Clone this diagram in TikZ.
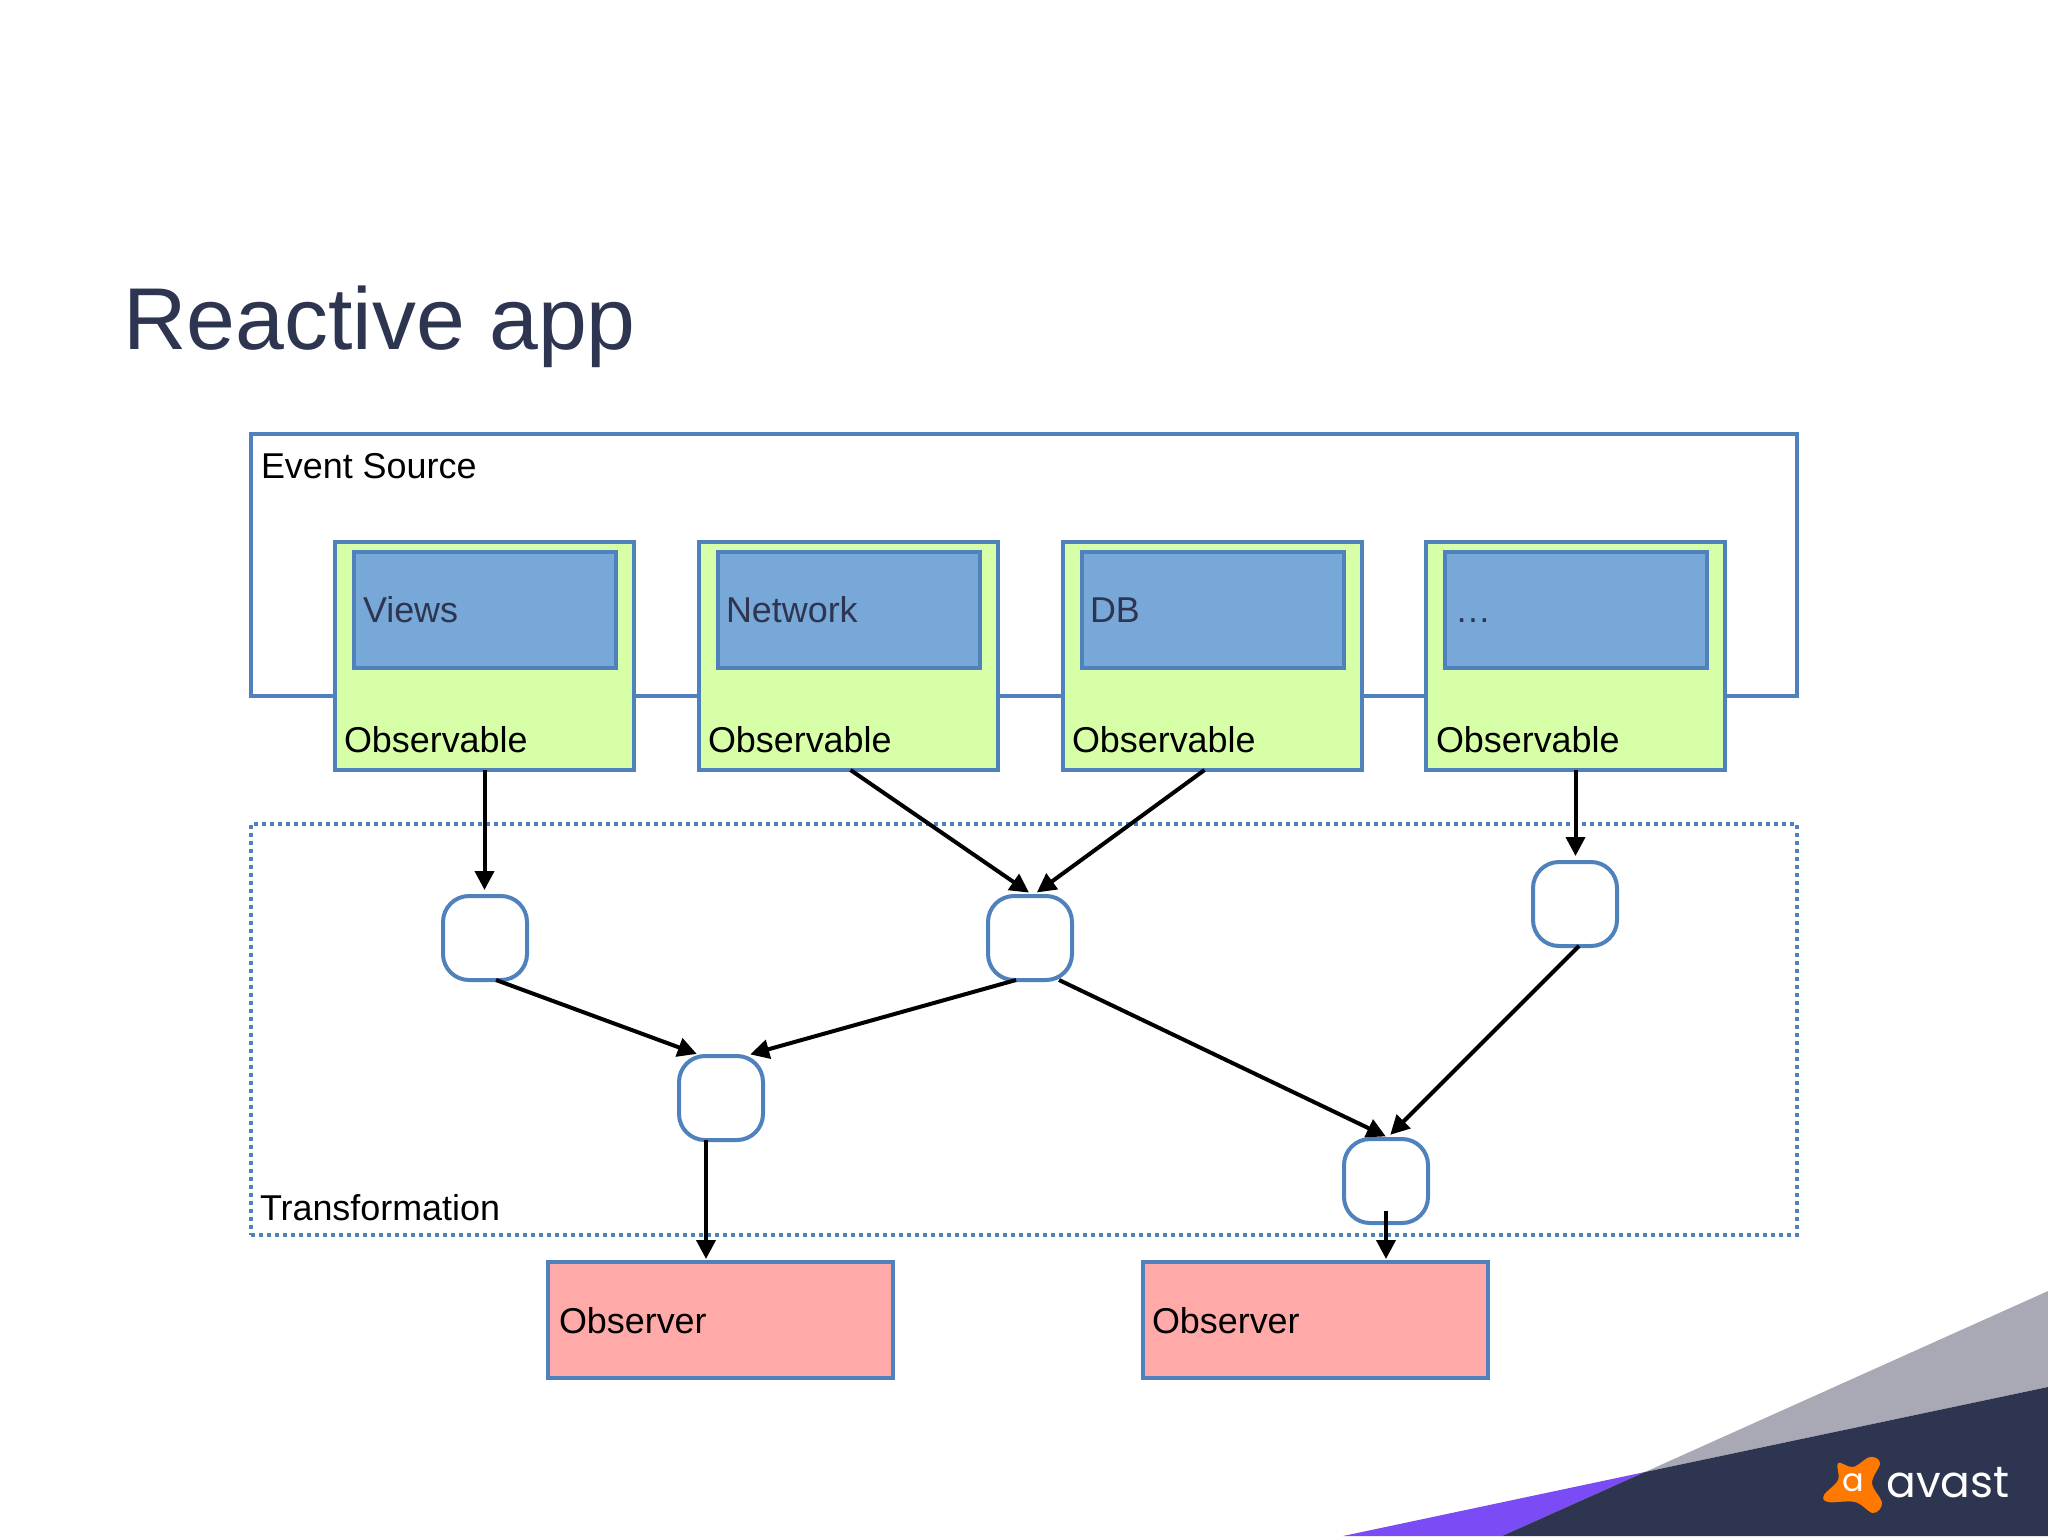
\documentclass[tikz,border=0pt]{standalone}
\usepackage{fontspec}
\setmainfont{Liberation Sans}
\newfontfamily\logofont{Poppins}
\usetikzlibrary{arrows.meta}
\definecolor{edgeblue}{HTML}{4F81BD}
\definecolor{obsgreen}{HTML}{D6FFA8}
\definecolor{srcblue}{HTML}{78A8D8}
\definecolor{obspink}{HTML}{FFA9A9}
\definecolor{slate}{HTML}{2E3550}
\definecolor{wedgegray}{HTML}{A9A9B5}
\definecolor{wedgepurple}{HTML}{7B4CF5}
\definecolor{logoorange}{HTML}{FF7800}
\tikzset{
    framebox/.style={draw=edgeblue, line width=2pt, anchor=north west, inner sep=0, outer sep=0},
    eventbox/.style={framebox, minimum width=773pt, minimum height=131pt},
    transbox/.style={framebox, line width=1.8pt, dash pattern=on 2pt off 2pt, minimum width=773pt, minimum height=205.5pt},
    obsbox/.style={framebox, fill=obsgreen, minimum width=149.5pt, minimum height=114pt},
    srcbox/.style={framebox, fill=srcblue, minimum width=131pt, minimum height=58pt},
    opbox/.style={draw=edgeblue, line width=2pt, fill=white, anchor=center, rounded corners=13pt, inner sep=0, outer sep=0, minimum size=42pt},
    sinkbox/.style={framebox, fill=obspink, minimum width=172.5pt, minimum height=58pt},
    lbl/.style={anchor=base west, inner sep=0, outer sep=0, font=\fontsize{17.95}{20}\selectfont},
    srclbl/.style={lbl, text=slate},
    flow/.style={draw=black, line width=2pt, -{Stealth[inset=0pt, length=9.5pt, width=9.5pt]}, shorten >=3pt}
}
\begin{document}
\begin{tikzpicture}[x=0.5pt, y=-0.5pt]
    \useasboundingbox (0, 0) rectangle (2048, 1536);
    \fill[white] (0, 0) rectangle (2048, 1536);

    % corner of the slide
    \fill[wedgegray] (1645, 1472) -- (2048, 1291) -- (2048, 1387) -- cycle;
    \fill[wedgepurple] (1343, 1536) -- (1645, 1472) -- (1502, 1536) -- cycle;
    \fill[slate] (1502, 1536) -- (1645, 1472) -- (2048, 1387) -- (2048, 1536) -- cycle;
    \fill[logoorange] plot[smooth cycle, tension=0.6] coordinates {(1838, 1463) (1853, 1467) (1870, 1457) (1880, 1463) (1872, 1483) (1882, 1503) (1873, 1513) (1855, 1502) (1828, 1502) (1824, 1495) (1838, 1480)};
    \node[anchor=base, inner sep=0, text=white, font=\logofont\fontsize{16}{18}\selectfont] (logomark) at (1853, 1491) {a};
    \node[anchor=base west, inner sep=0, text=white, font=\logofont\fontsize{22}{26}\selectfont] (logoname) at (1886, 1497) {avast};

    \node[anchor=base west, inner sep=0, text=slate, font=\fontsize{43.9}{50}\selectfont] (title) at (123, 349) {Reactive app};

    \node[eventbox] (event) at (251, 434) {};
    \node[lbl] (eventlbl) at (261, 478) {Event Source};
    \node[transbox] (trans) at (251, 824) {};
    \node[lbl] (translbl) at (260, 1220) {Transformation};

    \node[obsbox] (obs1) at (335, 542) {};
    \node[obsbox] (obs2) at (699, 542) {};
    \node[obsbox] (obs3) at (1063, 542) {};
    \node[obsbox] (obs4) at (1426, 542) {};

    \node[srcbox] (src1) at (354, 552) {};
    \node[srcbox] (src2) at (718, 552) {};
    \node[srcbox] (src3) at (1082, 552) {};
    \node[srcbox] (src4) at (1445, 552) {};

    \node[srclbl] (views) at (363, 622) {Views};
    \node[srclbl] (network) at (726, 622) {Network};
    \node[srclbl] (db) at (1090, 622) {DB};
    \node[srclbl] (more) at (1455, 622) {…};

    \node[lbl] (obslbl1) at (344, 752) {Observable};
    \node[lbl] (obslbl2) at (708, 752) {Observable};
    \node[lbl] (obslbl3) at (1072, 752) {Observable};
    \node[lbl] (obslbl4) at (1436, 752) {Observable};

    \node[opbox] (opa) at (485, 938) {};
    \node[opbox] (opb) at (1030, 938) {};
    \node[opbox] (opc) at (1575, 904) {};
    \node[opbox] (opd) at (721, 1098) {};
    \node[opbox] (ope) at (1386, 1181) {};

    \node[sinkbox] (sink1) at (548, 1262) {};
    \node[sinkbox] (sink2) at (1143, 1262) {};
    \node[lbl] (sinklbl1) at (559, 1333.5) {Observer};
    \node[lbl] (sinklbl2) at (1152, 1333.5) {Observer};

    \draw[flow] (obs1.south) -- (obs1.south |- opa.north);
    \draw[flow] ([xshift=1pt]obs2.south) -- ([xshift=2pt]opb.north);
    \draw[flow] ([xshift=-4pt]obs3.south) -- ([xshift=1pt]opb.north);
    \draw[flow] (obs4.south) -- (obs4.south |- opc.north);
    \draw[flow] ([xshift=5.5pt]opa.south) -- ([xshift=-9.3pt]opd.north);
    \draw[flow] ([xshift=-7pt]opb.south) -- ([xshift=11.7pt]opd.north);
    \draw[flow] ([xshift=14.5pt]opb.south) -- ([xshift=2.6pt]ope.north);
    \draw[flow] ([xshift=2pt]opc.south) -- (ope.north);
    \draw[flow, shorten >=1.5pt] ([xshift=-7.5pt]opd.south) -- ([xshift=-7.5pt]opd.south |- sink1.north);
    \draw[flow, shorten >=1.5pt] ([yshift=6pt]ope.south) -- (ope.south |- sink2.north);
\end{tikzpicture}
\end{document}
